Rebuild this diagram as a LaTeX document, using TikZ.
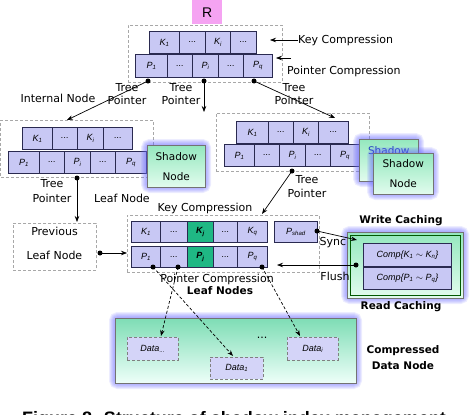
\documentclass[tikz,border=0pt]{standalone}
\usepackage{fontspec}
\setmainfont{DejaVu Sans}
\newfontfamily\arialf{Liberation Sans}
\usetikzlibrary{arrows.meta}
\definecolor{cellfill}{HTML}{C8C8F4}
\definecolor{cellline}{HTML}{2A2A50}
\definecolor{keyg}{HTML}{1FB884}
\definecolor{pinkR}{HTML}{F5A3F2}
\definecolor{glowc}{HTML}{6A6AFF}
\definecolor{mintA}{HTML}{94E8BE}
\definecolor{mintB}{HTML}{E2FCEE}
\definecolor{dataA}{HTML}{7EDDB5}
\definecolor{dataB}{HTML}{EEFFF9}
\definecolor{dcellfill}{HTML}{D4D4F8}
\definecolor{dashg}{HTML}{A8A8A8}
\definecolor{shblue}{HTML}{2040C0}
\newcommand\bx[7][cell]{\node[#1,minimum width={#5-#3},minimum height={#6-#4}] (#2) at (#3,#4) {#7};}
\newcommand\glow[4]{\foreach \gw in {2,4,6,8,10,12}{\draw[glowc,opacity=0.12,line width=\gw pt,rounded corners=3pt] (#1,#2) rectangle (#3,#4);}}
\begin{document}
\begin{tikzpicture}[x=1pt,y=-1pt,
  cell/.style={draw=cellline,fill=cellfill,line width=1pt,inner sep=0pt,anchor=north west,font=\arialf\itshape\fontsize{9}{10}\selectfont},
  gcell/.style={cell,fill=keyg,font=\arialf\bfseries\itshape\fontsize{9}{10}\selectfont},
  frame/.style={draw=dashg,densely dashed,fill=white,line width=0.6pt,inner sep=0pt,anchor=north west},
  rbox/.style={fill=pinkR,draw=none,inner sep=0pt,anchor=north west,font=\arialf\fontsize{14}{14}\selectfont},
  shadowbox/.style={draw=black!55,line width=0.5pt,top color=mintA,bottom color=mintB,inner sep=0pt,anchor=north west,align=center,font=\fontsize{10.5}{20}\selectfont},
  cachebox/.style={draw=black!55,line width=0.6pt,top color=mintA,bottom color=mintB,inner sep=0pt,anchor=north west},
  databox/.style={draw=black!55,line width=0.6pt,top color=dataA,bottom color=dataB,inner sep=0pt,anchor=north west},
  dcell/.style={draw=black!50,densely dashed,line width=0.5pt,fill=dcellfill,inner sep=0pt,anchor=north west,font=\arialf\itshape\fontsize{9}{10}\selectfont},
  lbl/.style={inner sep=0pt,font=\fontsize{11}{13}\selectfont,align=center},
  blbl/.style={inner sep=0pt,font=\bfseries\fontsize{10.5}{16}\selectfont,align=center},
  dot/.style={circle,fill=black,inner sep=0pt,minimum size=5pt},
  arr/.style={-{Stealth[length=6pt,width=4.5pt]},line width=0.7pt},
  darr/.style={arr,densely dashed}]
\useasboundingbox (0,0) rectangle (474,415);

% ---------- top internal node ----------
\bx[frame]{tf}{128}{25}{282}{82}{}
\bx[rbox]{rr}{192}{0}{222}{24}{R}
\bx{tk1}{149}{31}{179}{53}{K\textsubscript{1}}
\bx{tk2}{179}{31}{205}{53}{...}
\bx{tk3}{205}{31}{230}{53}{K\textsubscript{i}}
\bx{tk4}{230}{31}{256}{53}{...}
\bx{tp1}{135}{54}{167}{77}{P\textsubscript{1}}
\bx{tp2}{167}{54}{192}{77}{...}
\bx{tp3}{192}{54}{218}{77}{P\textsubscript{i}}
\bx{tp4}{218}{54}{243}{77}{...}
\bx{tp5}{243}{54}{272}{77}{P\textsubscript{q}}

% ---------- left leaf node ----------
\bx[frame]{lf}{0.5}{120}{153}{177}{}
\bx{lk1}{22}{127}{52}{149}{K\textsubscript{1}}
\bx{lk2}{52}{127}{77}{149}{...}
\bx{lk3}{77}{127}{103}{149}{K\textsubscript{i}}
\bx{lk4}{103}{127}{132}{149}{...}
\bx{lp1}{8}{151}{39}{173}{P\textsubscript{1}}
\bx{lp2}{39}{151}{64}{173}{...}
\bx{lp3}{64}{151}{90}{173}{P\textsubscript{i}}
\bx{lp4}{90}{151}{115}{173}{...}
\bx{lp5}{115}{151}{146}{173}{P\textsubscript{q}}
\glow{147}{145}{205}{187}
\bx[shadowbox]{ls}{147}{145}{205}{187}{Shadow\\Node}

% ---------- right node ----------
\bx[frame]{rf}{216}{113}{369}{171}{}
\bx{rk1}{236}{121}{268}{143}{K\textsubscript{1}}
\bx{rk2}{268}{121}{293}{143}{...}
\bx{rk3}{293}{121}{318}{143}{K\textsubscript{i}}
\bx{rk4}{318}{121}{348}{143}{...}
\bx{rp1}{224}{144}{254}{166}{P\textsubscript{1}}
\bx{rp2}{254}{144}{279}{166}{...}
\bx{rp3}{279}{144}{305}{166}{P\textsubscript{i}}
\bx{rp4}{305}{144}{330}{166}{...}
\bx{rp5}{330}{144}{359}{166}{P\textsubscript{q}}
\glow{359}{139}{418}{181}
\node[shadowbox,minimum width=59,minimum height=42,text=shblue] (rs1) at (359,139) {Shadow\\\phantom{Node}};
\glow{373}{153}{433}{194}
\bx[shadowbox]{rs2}{373}{153}{433}{194}{Shadow\\Node}

% ---------- previous leaf ----------
\bx[frame]{pv}{13}{223}{96}{270}{}
\node[lbl,font=\fontsize{11}{24}\selectfont] (pvt) at (54.5,243) {Previous\\Leaf Node};

% ---------- leaf nodes ----------
\bx[frame]{mf}{127}{215}{319}{272}{}
\bx{mk1}{131}{221}{160}{242}{K\textsubscript{1}}
\bx{mk2}{160}{221}{187}{242}{...}
\bx[gcell]{mk3}{187}{221}{213}{242}{K\textsubscript{j}}
\bx{mk4}{213}{221}{237}{242}{...}
\bx{mk5}{237}{221}{267}{242}{K\textsubscript{q}}
\bx{mp1}{131}{246}{160}{267}{P\textsubscript{1}}
\bx{mp2}{160}{246}{187}{267}{...}
\bx[gcell]{mp3}{187}{246}{213}{267}{P\textsubscript{j}}
\bx{mp4}{213}{246}{237}{267}{...}
\bx{mp5}{237}{246}{267}{267}{P\textsubscript{q}}
\bx{psh}{274}{221}{317}{242}{P\textsubscript{shad}}

% ---------- write caching ----------
\glow{347}{232}{463}{298}
\bx[cachebox]{wc}{347}{232}{463}{298}{}
\draw[green!35!black,line width=0.4pt] (350,235) rectangle (460,295);
\bx{ck}{363}{243}{451}{266}{Comp\{K\textsubscript{1} $\sim$ K\textsubscript{n}\}}
\bx{cp}{363}{266}{451}{289}{Comp\{P\textsubscript{1} $\sim$ P\textsubscript{q}\}}
\draw[cellline,line width=1.8pt] (ck.south west) -- (ck.south east);

% ---------- data node ----------
\glow{115}{318}{356}{383}
\bx[databox]{dn}{115}{318}{356}{383}{}
\bx[dcell]{da}{127}{337}{178}{360}{Data\textsubscript{...}}
\bx[dcell]{db}{210}{357}{263}{379}{Data\textsubscript{1}}
\bx[dcell]{dc}{287}{337}{338}{360}{Data\textsubscript{i}}
\node[lbl] (dots) at (262,338) {...};

% ---------- dots ----------
\node[dot] (d1) at (148,81) {};
\node[dot] (d2) at (204,81) {};
\node[dot] (d3) at (254,81) {};
\node[dot] (d4) at (77,178) {};
\node[dot] (d5) at (292,171) {};
\node[dot] (d6) at (100,253) {};
\node[dot] (d7) at (153,267) {};
\node[dot] (d8) at (178,267) {};
\node[dot] (d9) at (262,267) {};
\node[dot] (d10) at (317,231) {};
\node[dot] (d11) at (356,265) {};

% ---------- arrow ends ----------
\coordinate (e1) at (67,120);
\coordinate (e2) at (204,112);
\coordinate (e3) at (335,118);
\coordinate (e4) at (77,222);
\coordinate (e5) at (262,214);
\coordinate (e6) at (127,253);
\coordinate (e7) at (233,356);
\coordinate (e8) at (161,336);
\coordinate (e9) at (300,336);
\coordinate (e10) at (357,240);
\coordinate (e11) at (277,265);
\coordinate (kct) at (270,40);
\coordinate (pcs) at (291,58);
\coordinate (pct) at (276,58);

% ---------- labels ----------
\node[lbl,anchor=west] (kc1) at (298,40) {Key Compression};
\node[lbl,anchor=west] (pc1) at (287,71) {Pointer Compression};
\node[lbl] (inode) at (58,98) {Internal Node};
\node[lbl] (tpa) at (127,94) {Tree\\Pointer};
\node[lbl] (tpb) at (181,94) {Tree\\Pointer};
\node[lbl] (tpc) at (294,94) {Tree\\Pointer};
\node[lbl,font=\fontsize{11}{15}\selectfont] (tpd) at (52,191) {Tree\\Pointer};
\node[lbl] (lnode) at (122,198) {Leaf Node};
\node[lbl,font=\fontsize{11}{14}\selectfont] (tpe) at (307,187) {Tree\\Pointer};
\node[lbl] (kc2) at (205,208) {Key Compression};
\node[lbl] (pc2) at (217,279) {Pointer Compression};
\node[blbl] (lns) at (220,291) {Leaf Nodes};
\node[lbl] (sync) at (333,243) {Sync};
\node[lbl] (flush) at (335,276) {Flush};
\node[blbl] (wcl) at (401,221) {Write Caching};
\node[blbl] (rcl) at (401,307) {Read Caching};
\node[blbl] (cdn) at (403,358) {Compressed\\Data Node};
\node[anchor=base west,inner sep=0pt,font=\arialf\bfseries\fontsize{18}{18}\selectfont] (cap) at (22,424) {Figure 8. Structure of shadow index management};

% ---------- connectors ----------
\draw[arr] (kc1.west) -- (kct);
\draw[arr] (pcs) -- (pct);
\draw[arr] (d1.center) -- (e1);
\draw[arr] (d2.center) -- (e2);
\draw[arr] (d3.center) -- (e3);
\draw[arr] (d4.center) -- (e4);
\draw[arr] (d5.center) -- (e5);
\draw[arr] (d6.center) -- (e6);
\draw[darr] (d7.center) -- (e7);
\draw[darr] (d8.center) -- (e8);
\draw[darr] (d9.center) -- (e9);
\draw[arr] (d10.center) -- (e10);
\draw[arr] (d11.center) -- (e11);
\end{tikzpicture}
\end{document}
